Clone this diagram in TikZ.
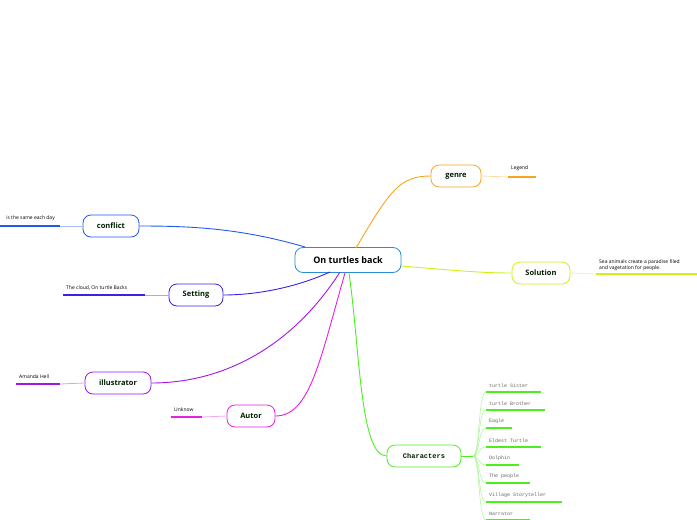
\documentclass[tikz,border=0pt]{standalone}
\usepackage{fontspec}
\setmainfont{Open Sans}
\newfontfamily\monof{Liberation Mono}
\begin{document}
\begin{tikzpicture}[x=1pt,y=-1pt,
 topic/.style={draw=#1,line width=0.8pt,rounded corners=8pt,minimum height=22pt,fill=white,font=\fontsize{7.5}{9}\selectfont\bfseries,text=black!70!green!40!black,inner xsep=8pt},
 leaf/.style={font=\fontsize{5}{6}\selectfont,anchor=south west,inner sep=1pt},
 con/.style={draw=#1,line width=0.9pt}]
\definecolor{cblue}{HTML}{1F5BF0}
\definecolor{cset}{HTML}{3A20E8}
\definecolor{cill}{HTML}{A015E8}
\definecolor{caut}{HTML}{E81EE0}
\definecolor{cchar}{HTML}{4CEE1E}
\definecolor{cgen}{HTML}{F7A51E}
\definecolor{csol}{HTML}{D0F01A}
\definecolor{croot}{HTML}{2A8FD0}
\useasboundingbox (0,0) rectangle (697,520);
% connectors
\coordinate (r1) at (305,247);
\coordinate (r2) at (330,272);
\coordinate (r3) at (340,272);
\coordinate (r4) at (345,273);
\coordinate (r5) at (349,273);
\coordinate (r6) at (356,248);
\coordinate (r7) at (401,266);
\node[topic=croot,minimum width=106pt,minimum height=25pt,font=\fontsize{9}{11}\selectfont\bfseries,text=black] (root) at (348,260) {On turtles back};
\node[topic=cgen,minimum width=50pt] (genre) at (456,176) {genre};
\node[topic=csol,minimum width=58pt] (sol) at (541,273) {Solution};
\node[topic=cblue,minimum width=56pt] (conf) at (111,226) {conflict};
\node[topic=cset,minimum width=54pt] (set) at (196,295) {Setting};
\node[topic=cill,minimum width=66pt] (ill) at (118,383) {illustrator};
\node[topic=caut,minimum width=48pt] (aut) at (251,416) {Autor};
\node[topic=cchar,minimum width=74pt,font=\monof\fontsize{7}{9}\selectfont\bfseries] (char) at (424,456) {Characters};
\draw[con=cblue] (r1) .. controls (240,228) and (190,226) .. (conf.east);
\draw[con=cset] (r2) .. controls (290,290) and (250,295) .. (set.east);
\draw[con=cill] (r3) .. controls (290,350) and (220,383) .. (ill.east);
\draw[con=caut] (r4) .. controls (320,360) and (310,416) .. (aut.east);
\draw[con=cchar] (r5) .. controls (360,350) and (360,456) .. (char.west);
\draw[con=cgen] (r6) .. controls (390,190) and (400,176) .. (genre.west);
\draw[con=csol] (r7) .. controls (450,270) and (480,273) .. (sol.west);
% leaves
\coordinate (gl) at (508,177); \coordinate (gr) at (536,177);
\draw[cgen!40,line width=0.8pt] (genre.east) -- (gl);
\draw[cgen,line width=1.2pt] (gl) -- (gr);
\node[leaf] (gt) at (510,172) {Legend};
\coordinate (sl) at (596,274); \coordinate (sr) at (697,274);
\draw[csol!40,line width=0.8pt] (sol.east) -- (sl);
\draw[csol,line width=1.2pt] (sl) -- (sr);
\node[leaf,align=left] (st) at (598,272) {Sea animals create a paradise filed\\and vagetation for people.};
\coordinate (cl) at (60,226); \coordinate (cr) at (0,226);
\draw[cblue!40,line width=0.8pt] (conf.west) -- (cl);
\draw[cblue,line width=1.2pt] (cl) -- (cr);
\node[leaf,anchor=south east] (ct) at (56,222) {is the same each day};
\coordinate (tl) at (145,295); \coordinate (tr) at (63,295);
\draw[cset!40,line width=0.8pt] (set.west) -- (tl);
\draw[cset,line width=1.2pt] (tl) -- (tr);
\node[leaf] (tt) at (65,291) {The cloud, On turtle Backs};
\coordinate (il) at (60,384); \coordinate (ir) at (16,384);
\draw[cill!40,line width=0.8pt] (ill.west) -- (il);
\draw[cill,line width=1.2pt] (il) -- (ir);
\node[leaf] (it) at (18,380) {Amanda Hell};
\coordinate (al) at (202,417); \coordinate (ar) at (171,417);
\draw[caut!40,line width=0.8pt] (aut.west) -- (al);
\draw[caut,line width=1.2pt] (al) -- (ar);
\node[leaf] (at) at (173,413) {Unknow};
% characters children
\coordinate (hub) at (473,456);
\draw[cchar,line width=0.9pt] (char.east) -- (hub);
\foreach \y/\e/\t [count=\i] in {392/541/turtle Sister,410/545/turtle Brother,428/512/Eagle,447/541/Eldest Turtle,465/519/Dolphin,483/530/The people,502/562/Village Storyteller,520/530/Narrator}{
  \coordinate (c\i) at (486,\y);
  \draw[cchar!50,line width=0.5pt] (hub) .. controls (480,456) and (478,\y) .. (c\i);
  \draw[cchar,line width=1.2pt] (c\i) -- (\e,\y);
  \node[leaf,font=\monof\fontsize{5}{6}\selectfont,text=black!60] (ch\i) at (488,\y-3) {\t};
}
\end{tikzpicture}
\end{document}
